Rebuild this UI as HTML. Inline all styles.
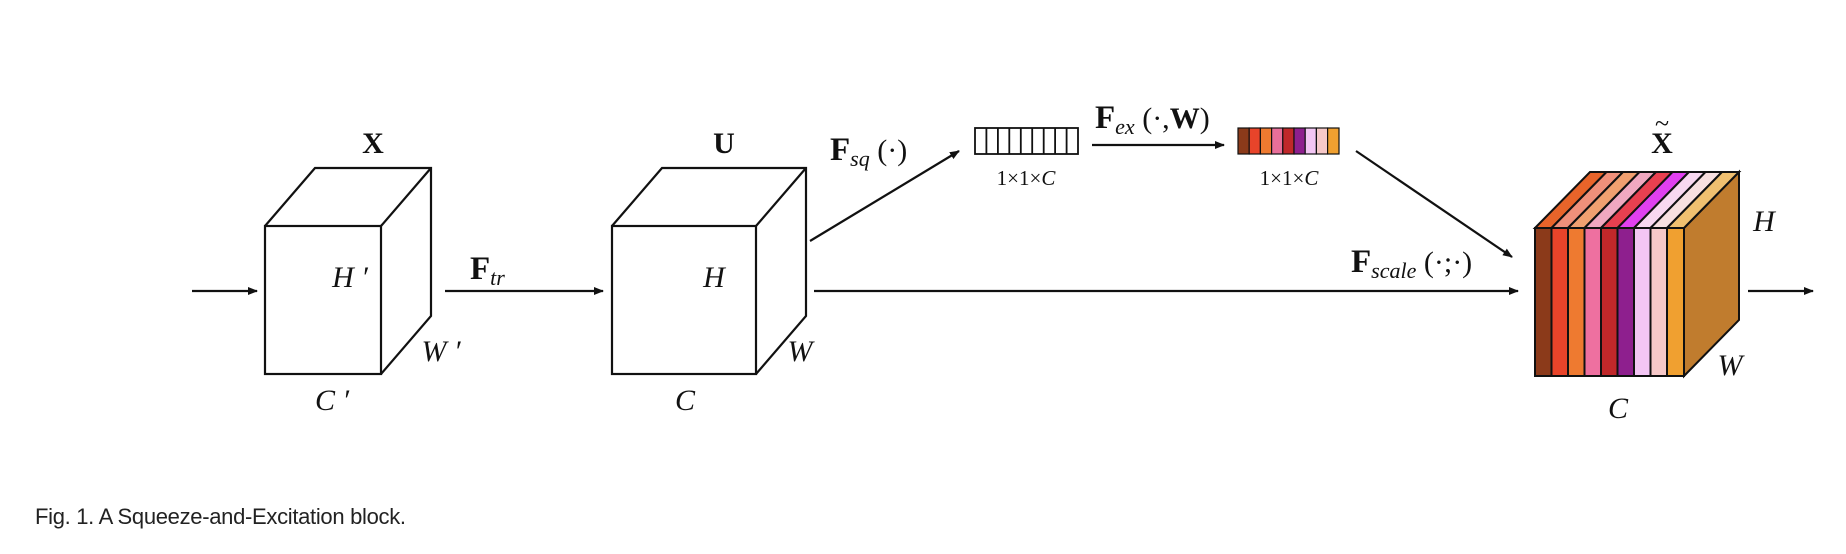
<!DOCTYPE html>
<html><head><meta charset="utf-8"><style>
html,body{margin:0;padding:0;background:#fff;}
svg{display:block;}
text{font-family:"Liberation Serif",serif;fill:#111;}
.it{font-style:italic;}
.b{font-weight:bold;}
</style></head><body>
<svg width="1846" height="554" viewBox="0 0 1846 554" xmlns="http://www.w3.org/2000/svg">
<defs>
<marker id="ah" markerWidth="10" markerHeight="8" refX="9" refY="4" orient="auto" markerUnits="userSpaceOnUse">
<path d="M0,0 L10,4 L0,8 z" fill="#111"/>
</marker>
</defs>
<g stroke="#111" stroke-width="2.2" fill="none">
<!-- cube X -->
<rect x="265" y="226" width="116" height="148" fill="#fff"/>
<path d="M265,226 L315,168 L431,168 L431,316 L381,374 M381,226 L431,168"/>
<!-- cube U -->
<rect x="612" y="226" width="144" height="148" fill="#fff"/>
<path d="M612,226 L662,168 L806,168 L806,316 L756,374 M756,226 L806,168"/>
<!-- arrows -->
<line x1="192" y1="291" x2="257" y2="291" marker-end="url(#ah)"/>
<line x1="445" y1="291" x2="603" y2="291" marker-end="url(#ah)"/>
<line x1="814" y1="291" x2="1518" y2="291" marker-end="url(#ah)"/>
<line x1="810" y1="241" x2="959" y2="151" marker-end="url(#ah)"/>
<line x1="1092" y1="145" x2="1224" y2="145" marker-end="url(#ah)"/>
<line x1="1356" y1="151" x2="1512" y2="257" marker-end="url(#ah)"/>
<line x1="1748" y1="291" x2="1813" y2="291" marker-end="url(#ah)"/>
</g>
<!-- squeezed vector -->
<g stroke="#111" stroke-width="1.8" fill="#fff">
<rect x="975" y="128" width="103" height="26"/>
<path d="M986.4,128V154M997.9,128V154M1009.3,128V154M1020.8,128V154M1032.2,128V154M1043.7,128V154M1055.1,128V154M1066.6,128V154"/>
</g>
<!-- colored vector -->
<g stroke="#111" stroke-width="1.2">
<rect x="1238" y="128" width="11.2" height="26" fill="#8B3A1A"/>
<rect x="1249.2" y="128" width="11.2" height="26" fill="#E8442A"/>
<rect x="1260.4" y="128" width="11.2" height="26" fill="#EE7A30"/>
<rect x="1271.6" y="128" width="11.2" height="26" fill="#E86F9A"/>
<rect x="1282.8" y="128" width="11.2" height="26" fill="#C0282A"/>
<rect x="1294" y="128" width="11.2" height="26" fill="#8E1F8E"/>
<rect x="1305.2" y="128" width="11.2" height="26" fill="#F3C6F4"/>
<rect x="1316.4" y="128" width="11.2" height="26" fill="#F6C8C8"/>
<rect x="1327.6" y="128" width="11.4" height="26" fill="#F0A030"/>
</g>
<!-- X tilde cube -->
<g stroke="#111" stroke-width="2">
<path d="M1684,228 L1739,172 L1739,320 L1684,376 z" fill="#C07C2E"/>
<path d="M1535,228 L1590,172 L1606.5,172 L1551.5,228 z" fill="#E8642A"/>
<path d="M1551.5,228 L1606.5,172 L1623,172 L1568,228 z" fill="#F0907A"/>
<path d="M1568,228 L1623,172 L1639.5,172 L1584.5,228 z" fill="#F0A070"/>
<path d="M1584.5,228 L1639.5,172 L1656,172 L1601,228 z" fill="#F0A8C0"/>
<path d="M1601,228 L1656,172 L1672.5,172 L1617.5,228 z" fill="#E84050"/>
<path d="M1617.5,228 L1672.5,172 L1689,172 L1634,228 z" fill="#E040F0"/>
<path d="M1634,228 L1689,172 L1705.5,172 L1650.5,228 z" fill="#F8D8F0"/>
<path d="M1650.5,228 L1705.5,172 L1722,172 L1667,228 z" fill="#F8E0E0"/>
<path d="M1667,228 L1722,172 L1739,172 L1684,228 z" fill="#F0C070"/>
<rect x="1535" y="228" width="16.5" height="148" fill="#8B3A1A"/>
<rect x="1551.5" y="228" width="16.5" height="148" fill="#E8442A"/>
<rect x="1568" y="228" width="16.5" height="148" fill="#EE7A30"/>
<rect x="1584.5" y="228" width="16.5" height="148" fill="#EE70A0"/>
<rect x="1601" y="228" width="16.5" height="148" fill="#C0282A"/>
<rect x="1617.5" y="228" width="16.5" height="148" fill="#8E1F8E"/>
<rect x="1634" y="228" width="16.5" height="148" fill="#F3C6F4"/>
<rect x="1650.5" y="228" width="16.5" height="148" fill="#F6C8C8"/>
<rect x="1667" y="228" width="17" height="148" fill="#F0A030"/>
</g>
<!-- labels -->
<text x="373" y="153" font-size="30" class="b" text-anchor="middle">X</text>
<text x="724" y="153" font-size="30" class="b" text-anchor="middle">U</text>
<text x="1662" y="153" font-size="30" class="b" text-anchor="middle">X</text>
<text x="1662" y="132" font-size="26" text-anchor="middle">~</text>
<text x="350" y="287" font-size="30" class="it" text-anchor="middle">H ′</text>
<text x="441" y="361" font-size="30" class="it" text-anchor="middle">W ′</text>
<text x="332" y="410" font-size="30" class="it" text-anchor="middle">C ′</text>
<text x="714" y="287" font-size="30" class="it" text-anchor="middle">H</text>
<text x="800" y="361" font-size="30" class="it" text-anchor="middle">W</text>
<text x="685" y="410" font-size="30" class="it" text-anchor="middle">C</text>
<text x="1764" y="231" font-size="30" class="it" text-anchor="middle">H</text>
<text x="1730" y="375" font-size="30" class="it" text-anchor="middle">W</text>
<text x="1618" y="418" font-size="30" class="it" text-anchor="middle">C</text>
<text x="470" y="279" font-size="33" class="b">F<tspan font-size="22" class="it" font-weight="normal" dy="6">tr</tspan></text>
<text x="830" y="160" font-size="33" class="b">F<tspan font-size="22" class="it" font-weight="normal" dy="6">sq</tspan><tspan font-weight="normal" font-size="30" dy="-6"> (·)</tspan></text>
<text x="1095" y="128" font-size="33" class="b">F<tspan font-size="22" class="it" font-weight="normal" dy="6">ex</tspan><tspan font-weight="normal" font-size="30" dy="-6"> (·,</tspan><tspan font-size="30">W</tspan><tspan font-weight="normal" font-size="30">)</tspan></text>
<text x="1351" y="272" font-size="33" class="b">F<tspan font-size="22" class="it" font-weight="normal" dy="6">scale</tspan><tspan font-weight="normal" font-size="30" dy="-6"> (·;·)</tspan></text>
<text x="1026" y="185" font-size="21" text-anchor="middle">1×1×<tspan class="it">C</tspan></text>
<text x="1289" y="185" font-size="21" text-anchor="middle">1×1×<tspan class="it">C</tspan></text>
<text x="35" y="524" font-size="22" textLength="371" style="font-family:'Liberation Sans',sans-serif;fill:#222">Fig. 1. A Squeeze-and-Excitation block.</text>
</svg>
</body></html>
